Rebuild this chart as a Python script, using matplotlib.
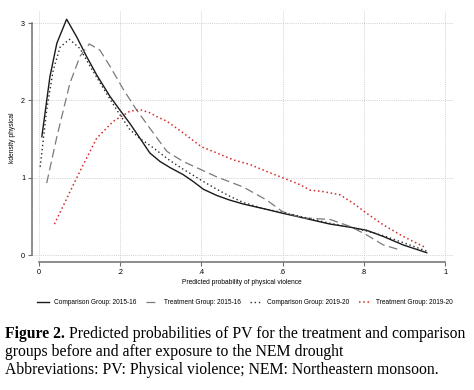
import numpy as np
import matplotlib.pyplot as plt

# kdensity curves
comp1516_x = [0.007, 0.027, 0.044, 0.068, 0.093, 0.117, 0.142, 0.175, 0.200, 0.224, 0.250, 0.273,
              0.298, 0.323, 0.355, 0.380, 0.405, 0.438, 0.470, 0.503, 0.561, 0.600, 0.643, 0.667,
              0.717, 0.766, 0.807, 0.848, 0.897, 0.955]
comp1516_y = [1.53, 2.31, 2.74, 3.05, 2.82, 2.57, 2.33, 2.05, 1.87, 1.70, 1.50, 1.32,
              1.21, 1.13, 1.04, 0.95, 0.85, 0.77, 0.71, 0.66, 0.59, 0.54, 0.49, 0.46,
              0.40, 0.36, 0.32, 0.24, 0.13, 0.03]

treat1516_x = [0.019, 0.044, 0.076, 0.101, 0.124, 0.150, 0.175, 0.208, 0.240, 0.273, 0.315, 0.355,
               0.405, 0.438, 0.503, 0.561, 0.600, 0.651, 0.717, 0.766, 0.807, 0.848, 0.893]
treat1516_y = [0.93, 1.53, 2.22, 2.57, 2.73, 2.65, 2.44, 2.14, 1.88, 1.64, 1.34, 1.21,
               1.09, 1.01, 0.88, 0.71, 0.56, 0.48, 0.46, 0.37, 0.26, 0.13, 0.06]

comp1920_x = [0.003, 0.019, 0.035, 0.052, 0.075, 0.101, 0.126, 0.158, 0.191, 0.224, 0.250, 0.273,
              0.298, 0.323, 0.355, 0.405, 0.438, 0.470, 0.503, 0.553, 0.600, 0.651, 0.717, 0.766,
              0.807, 0.848, 0.897, 0.955]
comp1920_y = [1.14, 1.88, 2.39, 2.69, 2.79, 2.67, 2.44, 2.16, 1.88, 1.62, 1.50, 1.42,
              1.32, 1.22, 1.11, 0.95, 0.85, 0.76, 0.68, 0.60, 0.55, 0.49, 0.41, 0.36,
              0.31, 0.25, 0.16, 0.05]

treat1920_x = [0.038, 0.093, 0.142, 0.183, 0.224, 0.249, 0.273, 0.290, 0.315, 0.355, 0.400, 0.438,
               0.479, 0.520, 0.561, 0.600, 0.643, 0.667, 0.700, 0.741, 0.774, 0.807, 0.848, 0.897,
               0.951]
treat1920_y = [0.40, 1.00, 1.51, 1.73, 1.86, 1.88, 1.84, 1.79, 1.73, 1.58, 1.40, 1.32,
               1.23, 1.17, 1.08, 1.00, 0.91, 0.84, 0.82, 0.78, 0.67, 0.54, 0.39, 0.24,
               0.10]

labels = ['Comparison Group: 2015-16', 'Treatment Group: 2015-16',
          'Comparison Group: 2019-20', 'Treatment Group: 2019-20']
xticks = [0, 0.2, 0.4, 0.6, 0.8, 1]
xticklabels = ['0', '.2', '.4', '.6', '.8', '1']
yticks = [0, 1, 2, 3]

plt.rcParams['font.family'] = ['Liberation Sans', 'DejaVu Sans']

fig = plt.figure(figsize=(4.74, 3.9), dpi=100)
ax = fig.add_axes([32/474, 1-262/390, (453-32)/474, (262-11)/390])

ax.plot(comp1516_x, comp1516_y, color='#1a1a1a', lw=1.0, label=labels[0])
ax.plot(treat1516_x, treat1516_y, color='#7a7a7a', lw=0.9, dashes=(7, 3.5), label=labels[1])
ax.plot(comp1920_x, comp1920_y, color='#2a2a2a', lw=1.0, dashes=(1, 2), label=labels[2])
ax.plot(treat1920_x, treat1920_y, color='#d42a2a', lw=1.1, dashes=(1, 1.8), label=labels[3])

ax.set_xlim(-7/406, (453-39)/406)
ax.set_ylim(-7/77.4, (255.3-11)/77.4)
ax.set_xticks(xticks)
ax.set_xticklabels(xticklabels)
ax.set_yticks(yticks)
ax.grid(True, color='#cfcfcf', linestyle=(0, (1, 1.2)), lw=0.7)
ax.set_axisbelow(True)

for s in ['top', 'right']:
    ax.spines[s].set_visible(False)
ax.spines['left'].set_bounds(0, 3)
ax.spines['bottom'].set_bounds(0, 1)
for s in ['left', 'bottom']:
    ax.spines[s].set_color('#6e6e6e')
    ax.spines[s].set_linewidth(1.1)
ax.tick_params(length=3, width=0.8, color='#6e6e6e', labelsize=5.2, pad=2)

fig.text(13/474, 1-138/390, 'kdensity physical', rotation=90, fontsize=4.8,
         ha='center', va='center')
fig.text(242/474, 1-282/390, 'Predicted probability of physical violence', fontsize=4.8,
         ha='center', va='center')

fig.legend(loc='center', bbox_to_anchor=(245/474, 1-302.5/390), ncol=4, frameon=False,
           fontsize=4.7, handlelength=1.9, columnspacing=1.45, handletextpad=0.75)

# caption
cap_font = 'Liberation Serif'
cap_size = 11.3
y1 = 1-338.5/390
t = fig.text(5/474, y1, 'Figure 2.', fontsize=cap_size, fontweight='bold', family=cap_font,
             va='baseline')
fig.canvas.draw()
bb = t.get_window_extent()
fig.text(bb.x1/474 + 4/474, y1, 'Predicted probabilities of PV for the treatment and comparison',
         fontsize=cap_size, family=cap_font, va='baseline')
fig.text(5/474, 1-356/390, 'groups before and after exposure to the NEM drought',
         fontsize=cap_size, family=cap_font, va='baseline')
fig.text(5/474, 1-373.5/390, 'Abbreviations: PV: Physical violence; NEM: Northeastern monsoon.',
         fontsize=cap_size, family=cap_font, va='baseline')

fig.savefig('out.png', dpi=100)
